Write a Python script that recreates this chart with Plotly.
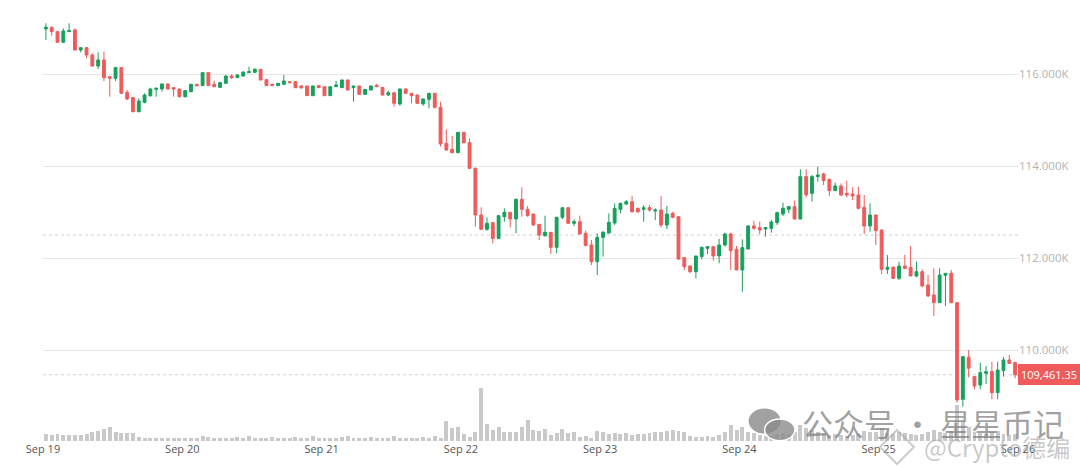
import plotly.graph_objects as go
import pandas as pd

# ---------------- data (hourly BTC candles, Sep 19 - Sep 25) ----------------
times = pd.date_range("2025-09-19 00:00", periods=168, freq="h")

opens = [
 116979,117015,116921,116689,116921,116957,116522,116573,116413,116174,116305,115942,115906,116138,115602,115486,
 115181,115384,115529,115667,115674,115783,115703,115674,115507,115616,115776,115747,116029,115776,115710,115797,
 115957,115921,115957,116029,116036,116102,115877,115776,115747,115776,115834,115834,115739,115739,115529,115747,
 115725,115529,115725,115703,115870,115703,115739,115558,115653,
 115754,115710,115543,115594,115348,115674,115580,115543,115348,115449,115580,115275,114493,114362,114290,114732,
 114507,113949,112935,112623,112768,112427,112898,112993,112848,113275,113058,112956,112732,112485,112558,112232,
 112884,113094,112754,112790,112536,112283,111920,112449,112543,112761,113058,113174,113224,113080,113058,113094,
 113022,113043,112717,112971,112898,112007,111826,111703,
 112030,112210,112247,112044,112283,112522,112189,111740,112196,112696,112660,112631,112645,112769,112957,113058,
 113116,112848,113769,113406,113769,113827,113711,113464,113566,113406,113392,113370,113102,112696,112935,112609,
 111754,111797,111558,111826,111797,111609,111703,111413,111196,111029,111624,111667,111029,108928,109841,109421,
 109239,109493,109529,109073,109551,109783,109725]
highs = [
 117102,117029,116930,116993,117102,116993,116580,116580,116449,116471,116486,115950,116160,116145,115653,115507,
 115471,115580,115703,115703,115790,115790,115710,115680,115653,115783,115783,116036,116036,115855,115834,115964,
 115993,115993,116066,116160,116124,116110,115884,115790,115805,115979,115841,115841,115761,115747,115747,115754,
 115732,115732,115848,115877,115877,115747,115747,115674,115747,
 115783,115717,115638,115601,115688,115688,115587,115550,115464,115587,115587,115399,114797,114652,114739,114739,
 114601,113971,113101,112884,112775,112935,113080,113000,113297,113536,113130,112963,112739,112920,112565,112898,
 113101,113101,112840,112920,112594,112391,112536,112587,112971,113188,113203,113261,113348,113094,113152,113152,
 113080,113348,113130,113007,112905,112014,111833,112050,
 112247,112261,112261,112413,112551,112551,112261,112406,112718,112812,112790,112667,112827,113008,113203,113131,
 113247,113928,113928,113805,113986,113856,113718,113638,113624,113682,113537,113551,113370,113189,112942,112616,
 112066,111826,111921,112066,112261,111921,111754,111631,111775,111775,111674,111740,111036,109862,110000,109428,
 109725,109652,109747,109747,109855,109892,109747]
lows = [
 116740,116834,116680,116680,116915,116515,116471,116341,116160,116109,115848,115507,115848,115575,115435,115167,
 115167,115362,115507,115507,115616,115667,115507,115486,115486,115602,115725,115740,115740,115710,115703,115783,
 115892,115914,115942,116022,116015,115862,115740,115740,115740,115769,115805,115696,115674,115522,115522,115696,
 115522,115522,115718,115696,115646,115399,115551,115551,115646,
 115710,115529,115529,115290,115312,115565,115362,115348,115312,115254,115254,114420,114333,114275,114275,114493,
 113940,112681,112609,112594,112319,112406,112790,112667,112536,112898,112898,112703,112391,112464,112087,112101,
 112848,112739,112696,112515,112261,111848,111630,112029,112536,112717,112971,113152,112985,112971,112790,113007,
 112826,112667,112623,112862,111957,111739,111667,111558,
 111972,112080,111942,111884,112247,111740,111733,111268,112189,112609,112522,112464,112551,112718,112913,112972,
 112841,112841,113319,113225,113660,113587,113348,113457,113348,113319,113261,113058,112522,112573,112283,111653,
 111653,111551,111522,111754,111602,111580,111363,111160,110740,111022,110957,111015,108855,108768,109406,109145,
 109145,109261,108928,108928,109421,109696,109384]
closes = [
 117015,116921,116689,116935,116942,116522,116573,116413,116174,116305,115921,115906,116138,115580,115457,115181,
 115413,115543,115674,115689,115783,115674,115674,115507,115638,115776,115747,116029,115747,115725,115812,115957,
 115921,115979,116036,116051,116102,115870,115747,115747,115797,115848,115812,115703,115703,115529,115739,115703,
 115529,115725,115761,115870,115653,115739,115558,115667,115739,
 115725,115543,115594,115362,115674,115580,115529,115362,115457,115580,115275,114478,114348,114290,114732,114507,
 113949,112935,112623,112754,112427,112920,112993,112848,113275,113058,112920,112717,112500,112558,112232,112884,
 113094,112754,112790,112522,112268,111920,112449,112558,112775,113080,113188,113224,113007,113007,113094,113043,
 113043,112717,112956,112884,111978,111812,111703,112043,
 112232,112247,112044,112283,112522,112160,111740,112225,112696,112645,112609,112660,112783,112986,113080,113116,
 112848,113769,113370,113769,113805,113682,113464,113566,113370,113370,113348,113080,112696,112935,112595,111754,
 111797,111558,111826,111775,111609,111703,111392,111174,111029,111631,111667,111029,108913,109855,109602,109218,
 109508,109529,109073,109565,109783,109710,109461.35]
# volume (arbitrary units)
volumes = [
 700,600,700,600,600,600,600,700,900,1000,1200,1400,900,800,800,800,
 400,300,300,300,300,300,300,300,300,300,300,500,400,300,300,300,
 300,400,300,500,300,300,300,400,300,300,300,400,300,300,500,300,
 300,300,300,400,500,300,300,300,400,
 300,300,300,500,300,300,300,300,400,300,500,300,2000,1300,1400,700,
 450,900,5300,1700,1100,1400,900,900,900,1400,2100,1100,1000,1200,600,800,
 1200,800,900,400,500,300,1000,900,700,800,700,800,600,700,700,800,
 900,900,1000,1100,1000,900,500,400,
 400,500,400,600,900,1600,1100,1400,900,800,600,500,500,700,800,700,
 900,1600,1300,1100,900,700,600,700,600,500,600,700,1000,900,900,1300,
 800,700,900,800,700,600,700,900,1100,900,800,1000,3600,2000,1400,900,
 800,700,900,1000,700,600,700]

last_price = 109461.35
ref_level = 112500
price_ticks = [110000, 112000, 114000, 116000]
price_tick_text = ["110.000K", "112.000K", "114.000K", "116.000K"]
day_ticks = pd.date_range("2025-09-19", periods=8, freq="D")

RED = "#ef5b5b"
GREEN = "#16a05c"
HOUR_MS = 3600 * 1000

fig = go.Figure()
fig.add_trace(go.Bar(
    x=times, y=volumes, yaxis="y2", marker_color="#c9c9c9",
    xperiod=HOUR_MS, xperiodalignment="middle",
    marker_line_width=0, width=0.68 * HOUR_MS, showlegend=False, hoverinfo="skip"))
fig.add_trace(go.Candlestick(
    x=times, open=opens, high=highs, low=lows, close=closes,
    xperiod=HOUR_MS, xperiodalignment="middle",
    increasing=dict(line=dict(color=GREEN, width=1), fillcolor=GREEN),
    decreasing=dict(line=dict(color=RED, width=1), fillcolor=RED),
    whiskerwidth=0, showlegend=False))

# reference dotted lines
for lvl in (ref_level, last_price):
    fig.add_shape(type="line", xref="paper", x0=0, x1=1, yref="y", y0=lvl, y1=lvl,
                  line=dict(color="#cfcfcf", width=1, dash="dot"), layer="below")

fig.add_annotation(xref="paper", x=1, xanchor="left", yref="y", y=last_price,
                   text="109,461.35", showarrow=False, bgcolor=RED, borderwidth=0,
                   font=dict(color="white", size=11, family="Open Sans"),
                   borderpad=3)

# watermarks
WM = "rgba(125,125,125,0.72)"
fig.add_shape(type="circle", xref="paper", yref="paper",
              x0=0.7237, x1=0.7566, y0=0.0168, y1=0.0735,
              fillcolor=WM, line=dict(width=0))
fig.add_shape(type="circle", xref="paper", yref="paper",
              x0=0.7401, x1=0.7713, y0=0.0007, y1=0.0499,
              fillcolor="rgba(140,140,140,0.8)", line=dict(color="white", width=1.5))
fig.add_annotation(xref="paper", yref="paper", x=0.776, y=0.043, xanchor="left", yanchor="middle",
                   text="公众号 · 星星币记", showarrow=False,
                   font=dict(size=31, color=WM, family="Noto Sans CJK SC"))
fig.add_shape(type="path", xref="paper", yref="paper",
              path="M 0.8585,-0.0136 L 0.8759,0.0249 L 0.8933,-0.0136 L 0.8759,-0.0521 Z",
              line=dict(color="rgba(170,170,170,0.6)", width=2))
fig.add_annotation(xref="paper", yref="paper", x=0.902, y=-0.012, xanchor="left", yanchor="middle",
                   text="@Crypto德编", showarrow=False,
                   font=dict(size=24, color="rgba(165,165,165,0.6)", family="Noto Sans CJK SC"))

fig.update_layout(
    width=1080, height=468,
    margin=dict(l=43, r=62, t=0, b=27),
    paper_bgcolor="white", plot_bgcolor="white",
    font=dict(family="Open Sans", color="#666"),
    bargap=0,
    xaxis=dict(
        type="date", range=["2025-09-19 00:00", "2025-09-26 00:00"],
        rangeslider=dict(visible=False), tickvals=day_ticks, tickformat="%b %d",
        showgrid=False, zeroline=False, showline=False, ticks="",
        tickfont=dict(size=11, color="#555")),
    yaxis=dict(
        side="right", range=[108021.7, 117608.7], tickvals=price_ticks, ticktext=price_tick_text,
        showgrid=True, gridcolor="#e6e6e6", gridwidth=1, zeroline=False, showline=False,
        ticks="", tickfont=dict(size=11.5, color="#b3b3b3")),
    yaxis2=dict(overlaying="y", range=[0, 44100], visible=False),
)

fig.write_html("out.html", config={"displayModeBar": False},
               post_script="document.body.style.margin='0px';")
